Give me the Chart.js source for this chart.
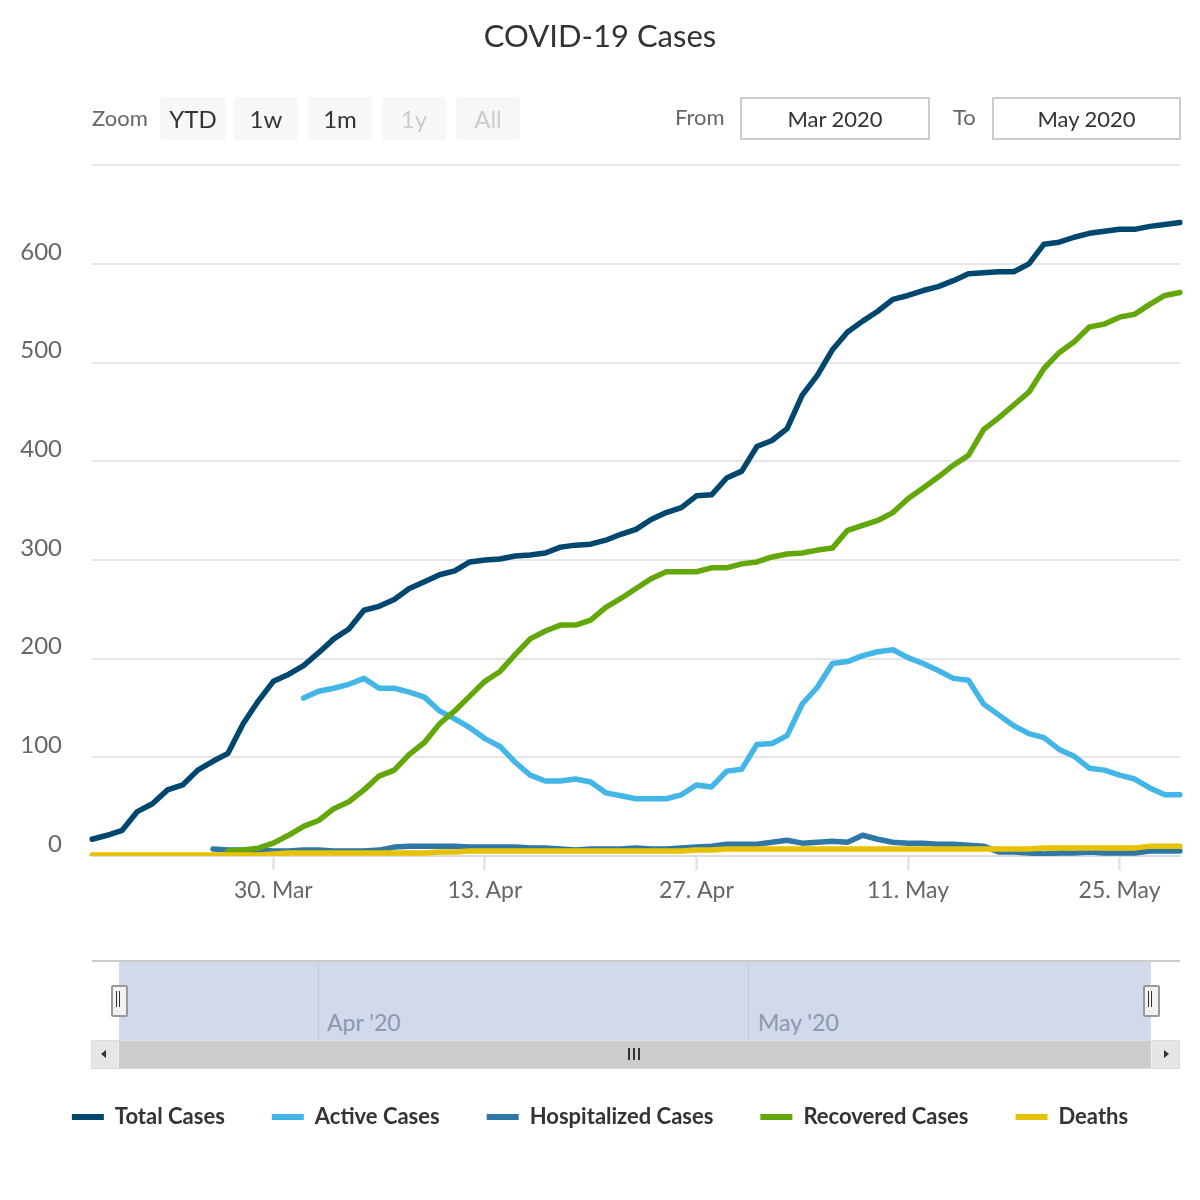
<!DOCTYPE html>
<html>
<head>
<meta charset="utf-8">
<script src="https://cdn.jsdelivr.net/npm/chart.js@4/dist/chart.umd.min.js"></script>
<style>
  html, body { margin: 0; padding: 0; background: #fff; }
  body { width: 1200px; height: 1200px; position: relative; font-family: Lato, "Noto Sans", sans-serif; }
  #wrap { position: absolute; left: 0; top: 0; width: 1200px; height: 1200px; }
  .lbl { position: absolute; color: #666; font-size: 22px; line-height: 42px; }
  .btn { position: absolute; top: 97px; height: 43px; width: 64px; background: #f7f7f7; border-radius: 3px;
         color: #333; font-size: 24px; line-height: 43px; text-align: center; }
  .btn.off { color: #ccc; }
  .inp { position: absolute; top: 97px; height: 39px; border: 2px solid #ccc; color: #333; font-size: 22px;
         line-height: 39px; text-align: center; background: #fff; }
  .nav { position: absolute; }
</style>
</head>
<body>
<div id="wrap"><canvas id="chart" width="1200" height="1200"></canvas></div>

<!-- range selector -->
<div class="lbl" style="left:92px;top:97px;">Zoom</div>
<div class="btn" style="left:160px;width:66px;">YTD</div>
<div class="btn" style="left:234px;">1w</div>
<div class="btn" style="left:308px;">1m</div>
<div class="btn off" style="left:382px;">1y</div>
<div class="btn off" style="left:456px;">All</div>
<div class="lbl" style="left:675px;top:96px;">From</div>
<div class="inp" style="left:740px;width:186px;">Mar 2020</div>
<div class="lbl" style="left:953px;top:96px;">To</div>
<div class="inp" style="left:992px;width:185px;">May 2020</div>

<!-- navigator -->
<div class="nav" style="left:92px;top:960px;width:1088px;height:2px;background:#ccc;"></div>
<div class="nav" style="left:119px;top:962px;width:1032px;height:78px;background:#d1d9ea;"></div>
<div class="nav" style="left:318px;top:962px;width:1px;height:78px;background:#bfc8dc;"></div>
<div class="nav" style="left:748px;top:962px;width:1px;height:78px;background:#bfc8dc;"></div>
<div class="nav" style="left:327px;top:1008px;color:#8e98ac;font-size:23px;">Apr '20</div>
<div class="nav" style="left:758px;top:1008px;color:#8e98ac;font-size:23px;">May '20</div>
<div class="nav" style="left:111px;top:985px;width:13px;height:28px;background:#f2f2f2;border:2px solid #999;border-radius:2px;"></div>
<div class="nav" style="left:116px;top:991px;width:1px;height:16px;background:#333;"></div>
<div class="nav" style="left:119px;top:991px;width:1px;height:16px;background:#333;"></div>
<div class="nav" style="left:1143px;top:985px;width:13px;height:28px;background:#f2f2f2;border:2px solid #999;border-radius:2px;"></div>
<div class="nav" style="left:1148px;top:991px;width:1px;height:16px;background:#333;"></div>
<div class="nav" style="left:1151px;top:991px;width:1px;height:16px;background:#333;"></div>
<div class="nav" style="left:91px;top:1040px;width:1087px;height:27px;background:#f2f2f2;border:1px solid #ddd;"></div>
<div class="nav" style="left:92px;top:1041px;width:26px;height:27px;background:#e6e6e6;"></div>
<div class="nav" style="left:1152px;top:1041px;width:27px;height:27px;background:#e6e6e6;"></div>
<div class="nav" style="left:119px;top:1041px;width:1032px;height:27px;background:#ccc;"></div>
<div class="nav" style="left:628px;top:1048px;width:2px;height:12px;background:#333;"></div>
<div class="nav" style="left:633px;top:1048px;width:2px;height:12px;background:#333;"></div>
<div class="nav" style="left:638px;top:1048px;width:2px;height:12px;background:#333;"></div>
<div class="nav" style="left:101px;top:1050px;width:0;height:0;border-top:4px solid transparent;border-bottom:4px solid transparent;border-right:5px solid #333;"></div>
<div class="nav" style="left:1164px;top:1050px;width:0;height:0;border-top:4px solid transparent;border-bottom:4px solid transparent;border-left:5px solid #333;"></div>

<script>
// daily values, 18 Mar 2020 .. 29 May 2020
const totalCases = [17, 21, 26, 45, 53, 67, 72, 87, 96, 104, 134, 157, 177, 184, 193, 206, 220, 230, 249, 253,
  260, 271, 278, 285, 289, 298, 300, 301, 304, 305, 307, 313, 315, 316, 320, 326, 331, 341, 348, 353,
  365, 366, 383, 390, 415, 421, 433, 467, 487, 513, 531, 542, 552, 564, 568, 573, 577, 583, 590, 591,
  592, 592, 600, 620, 622, 627, 631, 633, 635, 635, 638, 640, 642];
const activeCases = [null, null, null, null, null, null, null, null, null, null, null, null, null, null, 160, 167, 170, 174, 180, 170,
  170, 166, 161, 147, 139, 130, 119, 111, 95, 82, 76, 76, 78, 75, 64, 61, 58, 58, 58, 62,
  72, 70, 86, 88, 113, 114, 122, 154, 171, 195, 197, 203, 207, 209, 201, 195, 188, 180, 178, 154,
  143, 132, 124, 120, 108, 101, 89, 87, 82, 78, 69, 62, 62];
const hospitalizedCases = [null, null, null, null, null, null, null, null, 7, 6, 6, 6, 5, 5, 6, 6, 5, 5, 5, 6,
  9, 10, 10, 10, 10, 9, 9, 9, 9, 8, 8, 7, 6, 7, 7, 7, 8, 7, 7, 8,
  9, 10, 12, 12, 12, 14, 16, 13, 14, 15, 14, 21, 17, 14, 13, 13, 12, 12, 11, 10,
  4, 4, 3, 2, 3, 3, 4, 3, 3, 3, 5, 5, 5];
const recoveredCases = [null, null, null, null, null, null, null, null, null, 5, 6, 8, 13, 21, 30, 36, 48, 55, 67, 81,
  87, 103, 115, 134, 147, 162, 177, 187, 204, 220, 228, 234, 234, 239, 252, 261, 271, 281, 288, 288,
  288, 292, 292, 296, 298, 303, 306, 307, 310, 312, 330, 335, 340, 348, 362, 373, 384, 396, 406, 432,
  444, 457, 470, 494, 510, 521, 536, 539, 546, 549, 559, 568, 571];
const deaths = [1, 1, 1, 1, 1, 1, 1, 1, 1, 1, 1, 1, 2, 3, 3, 3, 3, 3, 3, 3,
  3, 3, 3, 4, 4, 5, 5, 5, 5, 5, 5, 5, 5, 5, 5, 5, 5, 5, 5, 5,
  6, 6, 7, 7, 7, 7, 7, 7, 7, 7, 7, 7, 7, 7, 7, 7, 7, 7, 7, 7,
  7, 7, 7, 8, 8, 8, 8, 8, 8, 8, 10, 10, 10];

const tickLabels = ['30. Mar', '13. Apr', '27. Apr', '11. May', '25. May'];
const seriesNames = ['Total Cases', 'Active Cases', 'Hospitalized Cases', 'Recovered Cases', 'Deaths'];
const seriesColors = ['#00476f', '#43b6e7', '#2f78a6', '#64a70b', '#e6c200'];

const months = ['Jan', 'Feb', 'Mar', 'Apr', 'May', 'Jun', 'Jul', 'Aug', 'Sep', 'Oct', 'Nov', 'Dec'];
const dates = totalCases.map((v, i) => {
  const d = new Date(2020, 2, 18 + i);
  return d.getDate() + '. ' + months[d.getMonth()];
});

const allSeries = [totalCases, activeCases, hospitalizedCases, recoveredCases, deaths];
const datasets = allSeries.map((data, i) => ({
  label: seriesNames[i],
  data: data,
  borderColor: seriesColors[i],
  backgroundColor: seriesColors[i],
  borderWidth: 5.5,
  pointRadius: 0,
  tension: 0,
  borderJoinStyle: 'round',
  borderCapStyle: 'round',
  order: allSeries.length - i
}));

const ctx = document.getElementById('chart').getContext('2d');
new Chart(ctx, {
  type: 'line',
  data: { labels: dates, datasets: datasets },
  options: {
    responsive: false,
    animation: false,
    layout: { padding: { left: 20, right: 20, top: 0, bottom: 62 } },
    plugins: {
      tooltip: { enabled: false },
      title: {
        display: true,
        text: 'COVID-19 Cases',
        color: '#333',
        font: { family: 'Lato', size: 31, weight: 'normal' },
        padding: { top: 18, bottom: 110 }
      },
      legend: {
        position: 'bottom',
        labels: {
          color: '#333',
          font: { family: 'Lato', size: 22, weight: 'bold' },
          boxWidth: 32,
          boxHeight: 6,
          padding: 47,
          sort: (a, b) => a.datasetIndex - b.datasetIndex,
          generateLabels: (chart) => Chart.defaults.plugins.legend.labels.generateLabels(chart)
            .map(l => Object.assign(l, { fillStyle: l.strokeStyle, lineWidth: 0 }))
        }
      }
    },
    scales: {
      x: {
        ticks: {
          autoSkip: false,
          maxRotation: 0,
          padding: 7,
          color: '#666',
          font: { family: 'Lato', size: 23 },
          callback: function (value) {
            const l = this.getLabelForValue(value);
            return tickLabels.includes(l) ? l : '';
          }
        },
        grid: {
          drawOnChartArea: false,
          tickLength: 14,
          tickWidth: 2,
          color: (c) => (c.tick && c.tick.label) ? '#dcdce4' : 'rgba(0,0,0,0)'
        },
        border: { display: true, color: '#dcdce4', width: 2 },
        afterFit: (scale) => { scale.height = 203; }
      },
      y: {
        min: 0,
        max: 700,
        ticks: {
          stepSize: 100,
          padding: 30,
          labelOffset: -12,
          color: '#666',
          font: { family: 'Lato', size: 24 },
          callback: (v) => (v === 700 ? '' : v)
        },
        grid: { color: '#e6e6ea', lineWidth: 2, drawTicks: false },
        border: { display: false },
        afterFit: (scale) => { scale.width = 72; }
      }
    }
  }
});
</script>
</body>
</html>
